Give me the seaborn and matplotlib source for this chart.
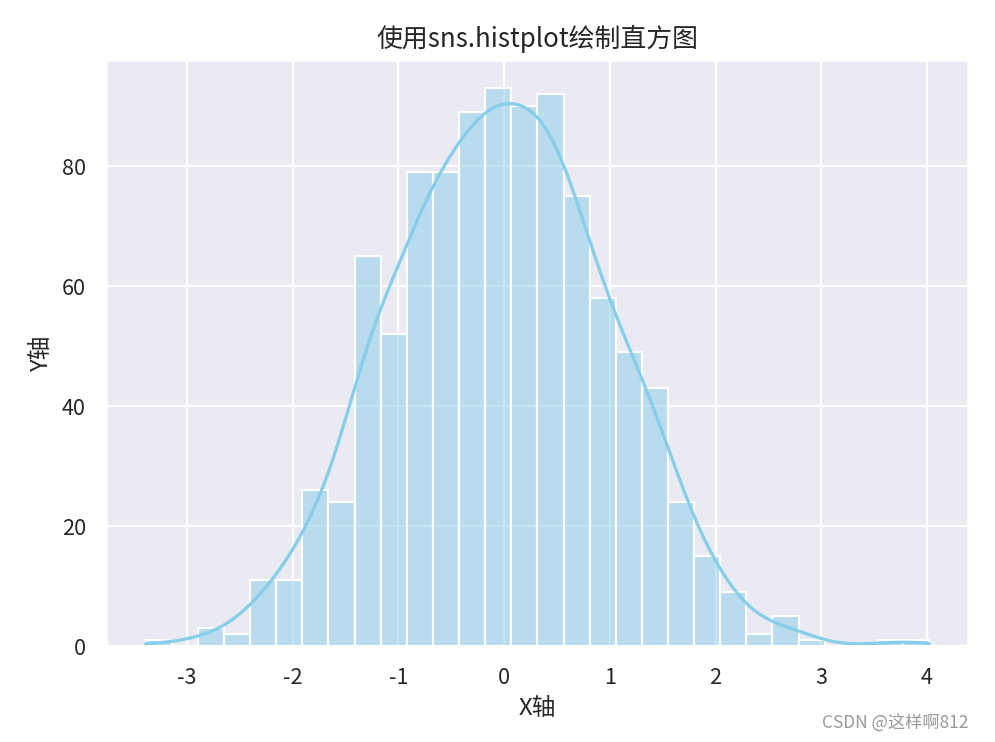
import numpy as np
import pandas as pd
import matplotlib
matplotlib.use('Agg')
import matplotlib.pyplot as plt
import seaborn as sns

# %%
# Histogram counts (30 bins between data min and max)
x_min, x_max = -3.39, 4.02
n_bins = 30
counts = [1, 0, 3, 2, 11, 11, 26, 24, 65, 52,
          79, 79, 89, 93, 90, 92, 75, 58, 49, 43,
          24, 15, 9, 2, 5, 1, 0, 0, 1, 1]

edges = np.linspace(x_min, x_max, n_bins + 1)
centers = (edges[:-1] + edges[1:]) / 2
df = pd.DataFrame({'value': centers, 'count': counts})

# scott factor for the ~1000 raw samples (weights would shrink n_eff)
bw_factor = sum(counts) ** (-1 / 5)

# %%
sns.set_theme(style='darkgrid')
plt.rcParams['font.family'] = ['Noto Sans CJK SC', 'DejaVu Sans']
plt.rcParams['axes.unicode_minus'] = False

fig, ax = plt.subplots(figsize=(6.4, 4.772), dpi=155.5)
fig.subplots_adjust(left=0.107, right=0.973, top=0.919, bottom=0.129)

sns.histplot(
    data=df,
    x='value',
    weights='count',
    bins=n_bins,
    binrange=(x_min, x_max),
    kde=True,
    kde_kws={'cut': 3, 'clip': (x_min, x_max), 'bw_method': bw_factor},
    color='skyblue',
    edgecolor='white',
    ax=ax
)

ax.set_title('使用sns.histplot绘制直方图', fontsize=12)
ax.set_xlabel('X轴', fontsize=11)
ax.set_ylabel('Y轴', fontsize=11)
ax.tick_params(labelsize=10)
ax.set_yticks([0, 20, 40, 60, 80])

fig.text(0.973, 0.012, 'CSDN @这样啊812', ha='right', va='bottom',
         fontsize=8, color='#999999')

plt.savefig('out.png', dpi=155.5)
